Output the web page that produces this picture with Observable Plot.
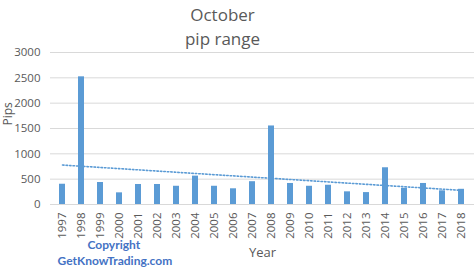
<!DOCTYPE html>
<html><head><meta charset="utf-8">
<script src="https://cdn.jsdelivr.net/npm/d3@7"></script>
<script src="https://cdn.jsdelivr.net/npm/@observablehq/plot@0.6"></script>
<style>body{margin:0;background:#fff;} svg{display:block;}</style>
</head><body><div id="chart"></div>
<script>
const years = ["1997","1998","1999","2000","2001","2002","2003","2004","2005","2006","2007","2008","2009","2010","2011","2012","2013","2014","2015","2016","2017","2018"];
const pips = [400,2520,434,230,395,395,360,560,360,310,450,1550,415,360,380,250,235,725,320,415,270,300];
const yTicks = [0,500,1000,1500,2000,2500,3000];
const titleLines = ["October","pip range"];
const copyrightLines = ["Copyright","GetKnowTrading.com"];

const data = years.map((y,i)=>({year:y, pips:pips[i], i}));
// linear trend (least squares) from data
const mx = d3.mean(data,d=>d.i), my = d3.mean(data,d=>d.pips);
const slope = d3.sum(data,d=>(d.i-mx)*(d.pips-my))/d3.sum(data,d=>(d.i-mx)**2);
const trend = data.map(d=>({year:d.year, v: my + slope*(d.i-mx)}));

const font = "'Open Sans', 'Liberation Sans', sans-serif";
const chart = Plot.plot({
  width:474, height:269,
  marginTop:52, marginBottom:65, marginLeft:50, marginRight:0,
  style:{fontFamily:font, color:"#595959", background:"#fff"},
  x:{domain:years, paddingInner:0.68, paddingOuter:0.35, label:null},
  y:{domain:[0,3000], ticks:yTicks, label:null},
  marks:[
    Plot.gridY(yTicks,{stroke:"#d9d9d9", strokeOpacity:1}),
    Plot.barY(data,{x:"year", y:"pips", fill:"#5b9bd5"}),
    Plot.line(trend,{x:"year", y:"v", stroke:"#5b9bd5", strokeWidth:1.6, strokeDasharray:"1.5,2"}),
    Plot.axisY(yTicks,{tickSize:0, tickPadding:10, fontSize:11.5, fill:"#595959", label:null, tickFormat:"d"}),
    Plot.axisX({tickSize:0, tickPadding:8, tickRotate:-90, fontSize:11.5, fill:"#595959", label:null}),
    Plot.text(["Pips"],{frameAnchor:"left", dx:-42, dy:-3, rotate:-90, fontSize:12, fill:"#595959"}),
    Plot.text(["Year"],{frameAnchor:"bottom", dx:0, dy:52, fontSize:13, fill:"#595959"}),
    Plot.text([titleLines[0]],{frameAnchor:"top", dx:-40, dy:-44, fontSize:17, fill:"#595959"}),
    Plot.text([titleLines[1]],{frameAnchor:"top", dx:-40, dy:-20, fontSize:17, fill:"#595959"}),
    Plot.text([copyrightLines[0]],{frameAnchor:"bottom-left", dx:37, dy:44, fontSize:12, fontWeight:"bold", fill:"#4472c4", fontFamily:"Lato, sans-serif"}),
    Plot.text([copyrightLines[1]],{frameAnchor:"bottom-left", dx:7, dy:60, fontSize:12, fontWeight:"bold", fill:"#4472c4", fontFamily:"Lato, sans-serif"})
  ]
});
document.getElementById("chart").append(chart);
</script></body></html>
